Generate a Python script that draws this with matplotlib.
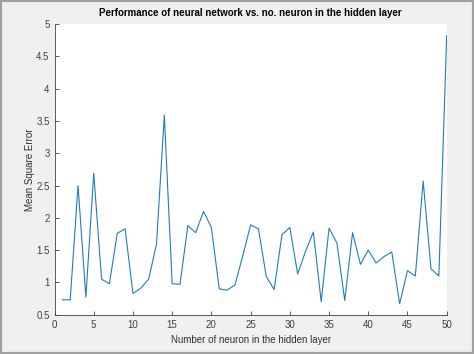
import matplotlib
matplotlib.use("Agg")
import matplotlib.pyplot as plt
from matplotlib.patches import Rectangle

neurons = list(range(1, 51))
mse = [0.73, 0.73, 2.50, 0.77, 2.69, 1.05, 0.98, 1.76, 1.83, 0.83,
       0.91, 1.05, 1.59, 3.59, 0.98, 0.97, 1.88, 1.77, 2.10, 1.85,
       0.90, 0.88, 0.96, 1.41, 1.89, 1.83, 1.09, 0.89, 1.74, 1.85,
       1.13, 1.48, 1.78, 0.70, 1.84, 1.61, 0.72, 1.77, 1.28, 1.50,
       1.30, 1.40, 1.47, 0.67, 1.18, 1.10, 2.57, 1.21, 1.10, 4.82]
xticks = [0, 5, 10, 15, 20, 25, 30, 35, 40, 45, 50]
yticks = [0.5, 1, 1.5, 2, 2.5, 3, 3.5, 4, 4.5, 5]
ytick_labels = ["0.5", "1", "1.5", "2", "2.5", "3", "3.5", "4", "4.5", "5"]

plt.rcParams['font.family'] = ['Liberation Sans', 'DejaVu Sans']

fig = plt.figure(figsize=(4.74, 3.54), dpi=100, facecolor='#f0f0f0')
fig.patches.append(Rectangle((0, 0), 1, 1, transform=fig.transFigure,
                             fill=False, edgecolor='#a0a0a0', linewidth=3, zorder=10))
ax = fig.add_axes([0.115, 0.111, 0.8274, 0.821])
ax.set_facecolor('white')
ax.plot(neurons, mse, color='#1f7cc4', linewidth=0.8)
ax.set_xlim(0, 50)
ax.set_ylim(0.5, 5)
ax.set_xticks(xticks)
ax.set_yticks(yticks)
ax.set_yticklabels(ytick_labels)
for s in ['top', 'right']:
    ax.spines[s].set_visible(False)
for s in ['left', 'bottom']:
    ax.spines[s].set_color('#404040')
    ax.spines[s].set_linewidth(0.6)
ax.tick_params(direction='in', length=3, width=0.6, colors='#404040', labelsize=7)
ax.set_xlabel('Number of neuron in the hidden layer', fontsize=7, color='#303030', labelpad=4)
ax.set_ylabel('Mean Square Error', fontsize=7, color='#303030', labelpad=1)
ax.set_title('Performance of neural network vs. no. neuron in the hidden layer',
             fontsize=7, fontweight='bold', color='black', pad=6)
fig.savefig('out.png', dpi=100, facecolor=fig.get_facecolor())
